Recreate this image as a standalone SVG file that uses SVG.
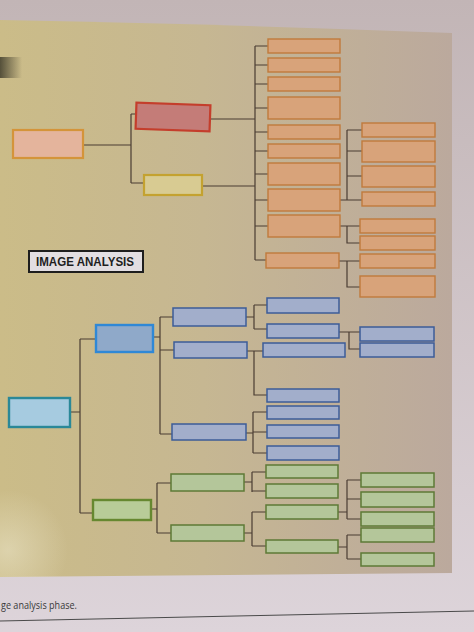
<svg xmlns="http://www.w3.org/2000/svg" width="474" height="632" viewBox="0 0 474 632">
<defs>
<linearGradient id="panel" x1="0" y1="0" x2="1" y2="0">
<stop offset="0" stop-color="#cbbc88"/>
<stop offset="0.45" stop-color="#c6b792"/>
<stop offset="1" stop-color="#bba99d"/>
</linearGradient>
<linearGradient id="page" x1="0" y1="0" x2="0" y2="1">
<stop offset="0" stop-color="#c2b5b6"/>
<stop offset="1" stop-color="#ddd4da"/>
</linearGradient>
<radialGradient id="glare" cx="8" cy="550" r="60" gradientUnits="userSpaceOnUse">
<stop offset="0" stop-color="#f2eed8" stop-opacity="0.45"/>
<stop offset="1" stop-color="#f2eed8" stop-opacity="0"/>
</radialGradient>
<linearGradient id="dark" x1="0" y1="0" x2="1" y2="0">
<stop offset="0" stop-color="#55503a"/>
<stop offset="1" stop-color="#55503a" stop-opacity="0"/>
</linearGradient>
<style>
.o{fill:#d8a37a;stroke:#c07a3c;stroke-width:1.4}
.b{fill:#a2aecb;stroke:#3c5c98;stroke-width:1.5}
.g{fill:#b4c69a;stroke:#5e7a36;stroke-width:1.5}
.c{fill:none;stroke:#4a3d33;stroke-width:1.2}
</style>
</defs>
<rect x="0" y="0" width="474" height="632" fill="url(#page)"/>
<path d="M0,20 Q220,24 452,33 L452,573 L0,577 Z" fill="url(#panel)"/>
<rect x="0" y="480" width="80" height="97" fill="url(#glare)"/>
<rect x="0" y="57" width="22" height="21" fill="url(#dark)"/>
<g id="connectors" class="c">
<path d="M83,145 H131 M131,114 V183 M131,114 H136 M131,183 H144 M210,119 H255 M202,186 H255 M255,46 V260 M255,46 H268 M255,65 H268 M255,84 H268 M255,108 H268 M255,132 H268 M255,151 H268 M255,174 H268 M255,200 H268 M255,226 H268 M255,260 H266"/>
<path d="M340,200 H362 M347,130 V200 M347,130 H362 M347,151 H362 M347,176 H362 M340,226 H360 M347,226 V243 H360 M339,261 H362 M347,261 V287 H360"/>
<path d="M70,412 H80 M80,339 V513 M80,339 H96 M80,513 H93 M153,337 H160 M160,317 V434 M160,317 H173 M160,350 H174 M160,434 H172"/>
<path d="M246,317 H254 M254,305 V329 M254,305 H267 M254,329 H267 M339,332 H360 M349,332 V349 H360 M247,351 H263 M254,351 V395 H267 M246,433 H253 M253,412 V453 M253,412 H267 M253,432 H267 M253,453 H267"/>
<path d="M151,509 H157 M157,483 V533 M157,483 H171 M157,533 H171 M244,482 H252 M252,472 V492 M252,472 H266 M252,491 H266 M244,533 H252 M252,512 V546 M252,512 H266 M252,546 H266"/>
<path d="M338,512 H347 M347,480 V519 M347,480 H361 M347,499 H361 M347,519 H361 M338,547 H347 M347,535 V559 M347,535 H361 M347,559 H361"/>
</g>
<g id="orange-root"><rect x="13" y="130" width="70" height="28" fill="#e4b49c" stroke="#d4943a" stroke-width="2.2"/></g>
<g id="red-node"><rect x="136" y="104" width="74" height="26" fill="#c47c78" stroke="#c43e2c" stroke-width="2.2" transform="rotate(2 173 117)"/></g>
<g id="yellow-node"><rect x="144" y="175" width="58" height="20" fill="#d8cb92" stroke="#c4a230" stroke-width="2.2"/></g>
<g id="o1"><rect class="o" x="268" y="39" width="72" height="14"/></g>
<g id="o2"><rect class="o" x="268" y="58" width="72" height="14"/></g>
<g id="o3"><rect class="o" x="268" y="77" width="72" height="14"/></g>
<g id="o4"><rect class="o" x="268" y="97" width="72" height="22"/></g>
<g id="o5"><rect class="o" x="268" y="125" width="72" height="14"/></g>
<g id="o6"><rect class="o" x="268" y="144" width="72" height="14"/></g>
<g id="o7"><rect class="o" x="268" y="163" width="72" height="22"/></g>
<g id="o8"><rect class="o" x="268" y="189" width="72" height="22"/></g>
<g id="o9"><rect class="o" x="268" y="215" width="72" height="22"/></g>
<g id="o10"><rect class="o" x="266" y="253" width="73" height="15"/></g>
<g id="oa"><rect class="o" x="362" y="123" width="73" height="14"/></g>
<g id="ob"><rect class="o" x="362" y="141" width="73" height="21"/></g>
<g id="oc"><rect class="o" x="362" y="166" width="73" height="21"/></g>
<g id="od"><rect class="o" x="362" y="192" width="73" height="14"/></g>
<g id="oe"><rect class="o" x="360" y="219" width="75" height="14"/></g>
<g id="of"><rect class="o" x="360" y="236" width="75" height="14"/></g>
<g id="og"><rect class="o" x="360" y="254" width="75" height="14"/></g>
<g id="oh"><rect class="o" x="360" y="276" width="75" height="21"/></g>
<g id="label"><rect x="29" y="251" width="114" height="21" fill="#e2dee2" stroke="#1e1e1e" stroke-width="2"/><text x="36" y="266" font-family="Liberation Sans, Arial, sans-serif" font-weight="bold" font-size="12" fill="#1e1e1e" textLength="98" lengthAdjust="spacingAndGlyphs">IMAGE ANALYSIS</text></g>
<g id="blue-root"><rect x="9" y="398" width="61" height="29" fill="#a6cbe0" stroke="#2a8898" stroke-width="2.4"/></g>
<g id="blue-mid"><rect x="96" y="325" width="57" height="27" fill="#8fa9c9" stroke="#2f88d6" stroke-width="2.4"/></g>
<g id="b1"><rect class="b" x="173" y="308" width="73" height="18"/></g>
<g id="b2"><rect class="b" x="174" y="342" width="73" height="16"/></g>
<g id="b3"><rect class="b" x="172" y="424" width="74" height="16"/></g>
<g id="c1"><rect class="b" x="267" y="298" width="72" height="15" fill="#8596b8"/></g>
<g id="c2"><rect class="b" x="267" y="324" width="72" height="14"/></g>
<g id="c3"><rect class="b" x="263" y="343" width="82" height="14" fill="#8898b8"/></g>
<g id="c4"><rect class="b" x="267" y="389" width="72" height="13"/></g>
<g id="c5"><rect class="b" x="267" y="406" width="72" height="13"/></g>
<g id="c6"><rect class="b" x="267" y="425" width="72" height="13"/></g>
<g id="c7"><rect class="b" x="267" y="446" width="72" height="14"/></g>
<g id="d1"><rect class="b" x="360" y="327" width="74" height="14"/></g>
<g id="d2"><rect class="b" x="360" y="343" width="74" height="14"/></g>
<g id="green-root"><rect x="93" y="500" width="58" height="20" fill="#b8cc98" stroke="#668830" stroke-width="2.4"/></g>
<g id="g1"><rect class="g" x="171" y="474" width="73" height="17"/></g>
<g id="g2"><rect class="g" x="171" y="525" width="73" height="16"/></g>
<g id="h1"><rect class="g" x="266" y="465" width="72" height="13"/></g>
<g id="h2"><rect class="g" x="266" y="484" width="72" height="14"/></g>
<g id="h3"><rect class="g" x="266" y="505" width="72" height="14"/></g>
<g id="h4"><rect class="g" x="266" y="540" width="72" height="13"/></g>
<g id="i1"><rect class="g" x="361" y="473" width="73" height="14"/></g>
<g id="i2"><rect class="g" x="361" y="492" width="73" height="15"/></g>
<g id="i3"><rect class="g" x="361" y="512" width="73" height="14"/></g>
<g id="i4"><rect class="g" x="361" y="528" width="73" height="14"/></g>
<g id="i5"><rect class="g" x="361" y="553" width="73" height="13"/></g>
<text x="1" y="609" font-family="Open Sans, Liberation Sans, sans-serif" font-size="11.5" fill="#3a3a3a" textLength="76" lengthAdjust="spacingAndGlyphs">ge analysis phase.</text>
<path d="M0,621 L474,611" stroke="#4a4a4a" stroke-width="1" fill="none"/>
</svg>
